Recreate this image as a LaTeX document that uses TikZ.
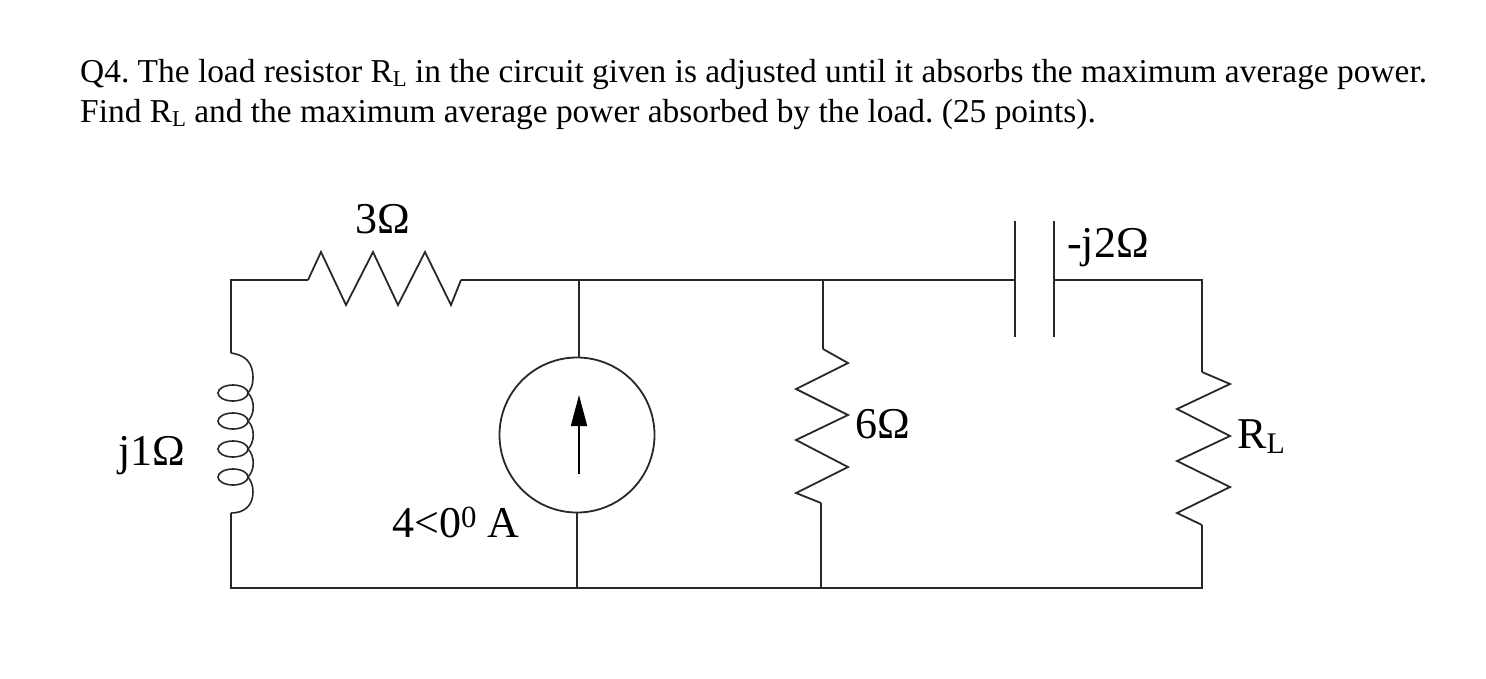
\documentclass[tikz,border=0pt]{standalone}
\usepackage{fontspec}
\setmainfont{Liberation Serif}
\usepackage{xcolor}
\usetikzlibrary{arrows.meta, positioning, calc}
\definecolor{wire_dark}{RGB}{40, 40, 40}
\newcommand{\Rload}{R\raisebox{-0.12em}{\fontsize{0.68em}{1em}\selectfont L}}

\begin{document}
\begin{tikzpicture}[
        x=1pt, y=-1pt,
        wire/.style={line width=2.2pt, color=wire_dark},
        zig/.style={line width=1.8pt, color=wire_dark, line join=miter},
        coil/.style={line width=1.6pt, color=wire_dark},
        source/.style={circle, draw=wire_dark, line width=1.8pt,
                       minimum size=155pt, inner sep=0pt},
        question/.style={anchor=base west, inner sep=0pt,
                         font=\frenchspacing\fontsize{33.4}{38}\selectfont},
        lbl/.style={anchor=base west, inner sep=0pt,
                    font=\fontsize{44}{50}\selectfont},
      ]
        \useasboundingbox (0,0) rectangle (1486,678);

        \node[question] (q1) at (80,82)
          {Q4. The load resistor \Rload{} in the circuit given is adjusted until it absorbs the maximum average power.};
        \node[question] (q2) at (80,122)
          {Find \Rload{} and the maximum average power absorbed by the load. (25 points).};

        \coordinate (tl) at (231,280);
        \coordinate (bl) at (231,588);
        \coordinate (tr) at (1202,280);
        \coordinate (br) at (1202,588);
        \coordinate (lup) at (231,353);
        \coordinate (ldn) at (231,513);
        \coordinate (r3a) at (308,280);
        \coordinate (r3b) at (461,280);
        \coordinate (top1) at (579,280);
        \coordinate (bot1) at (577,588);
        \coordinate (top2) at (823,280);
        \coordinate (up2) at (823,349);
        \coordinate (dn2) at (821,503);
        \coordinate (bot2) at (821,588);
        \coordinate (upL) at (1202,372);
        \coordinate (dnL) at (1202,525);
        \coordinate (capa) at (1015,280);
        \coordinate (capb) at (1054,280);
        \coordinate (arrowtail) at (579,474);
        \coordinate (arrowtip) at (579,395);

        \node[source] (src) at (577,435) {};

        \draw[wire] (lup) -- (tl) -- (r3a);
        \draw[wire] (r3b) -- (capa);
        \draw[wire] (capb) -- (tr) -- (upL);
        \draw[wire] (ldn) -- (bl) -- (br) -- (dnL);
        \draw[wire] (top1) -- (top1 |- src.north);
        \draw[wire] (bot1 |- src.south) -- (bot1);
        \draw[wire] (top2) -- (up2);
        \draw[wire] (dn2) -- (bot2);

        \draw[zig] (r3a) -- ++(13,-28) -- ++(25,53) -- ++(27,-53) -- ++(25,53)
          -- ++(27,-53) -- ++(26,53) -- (r3b);
        \draw[zig] (up2) -- ++(25,14) -- ++(-52,26) -- ++(52,26) -- ++(-52,25)
          -- ++(52,27) -- ++(-52,26) -- (dn2);
        \draw[zig] (upL) -- ++(28,12) -- ++(-53,25) -- ++(53,27) -- ++(-53,25)
          -- ++(53,26) -- ++(-53,26) -- (dnL);

        \draw[wire] (capa |- 0,221) -- (capa |- 0,337);
        \draw[wire] (capb |- 0,221) -- (capb |- 0,337);

        \draw[coil] (lup) .. controls (245,355) and (253,362) .. (253,378)
          .. controls (253,385) and (251,389) .. (248,393);
        \foreach \yy in {393,421,449,477} {
          \draw[coil] (233,\yy) ellipse [x radius=15, y radius=8];
        }
        \foreach \yy in {393,421,449} {
          \draw[coil] (248,\yy) .. controls (255,\yy+7) and (255,\yy+21) .. (248,\yy+28);
        }
        \draw[coil] (248,477) .. controls (251,481) and (253,485) .. (253,492)
          .. controls (253,505) and (245,513) .. (ldn);

        \draw[-{Triangle[length=31pt, width=16pt]}, line width=1.8pt, color=black]
          (arrowtail) -- (arrowtip);

        \node[lbl] (l3) at (355,233) {3Ω};
        \node[lbl] (lc) at (1067,257) {-j2Ω};
        \node[lbl] (lj) at (118,465) {j1Ω};
        \node[lbl] (l6) at (855,438) {6Ω};
        \node[lbl] (lr) at (1237,448) {\Rload};
        \node[lbl] (ls) at (392,537) {4<0\textsuperscript{0} A};
      \end{tikzpicture}
\end{document}
